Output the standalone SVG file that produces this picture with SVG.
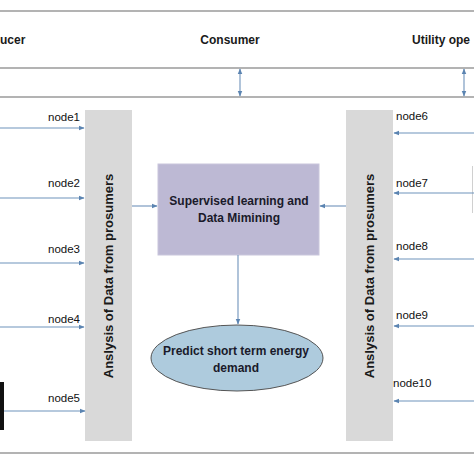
<svg xmlns="http://www.w3.org/2000/svg" width="474" height="474" viewBox="0 0 474 474">
<defs>
<style>
.hl{stroke:#9a9a9a;stroke-width:1.5;fill:none}
.ar{stroke:#6f93bb;stroke-width:1.1;fill:none}
.hd{font-family:"Liberation Sans",Arial,sans-serif;font-size:12px;font-weight:bold;fill:#1a1a1a}
.rt{font-family:"Liberation Sans",Arial,sans-serif;font-size:13px;font-weight:bold;fill:#1a1a1a}
.nd{font-family:"Liberation Sans",Arial,sans-serif;font-size:11.5px;fill:#111}
.bx{font-family:"Liberation Sans",Arial,sans-serif;font-size:12px;font-weight:bold;fill:#1a1a2a}
.bar{fill:#d9d9d9}
</style>
<marker id="ah" viewBox="0 0 10 10" refX="9" refY="5" markerWidth="6" markerHeight="6" orient="auto-start-reverse" markerUnits="userSpaceOnUse">
<path d="M0,1 L10,5 L0,9 Z" fill="#5b84b1"/>
</marker>
</defs>
<rect width="474" height="474" fill="#ffffff"/>
<g id="header">
<line class="hl" x1="0" y1="11" x2="474" y2="11"/>
<line class="hl" x1="0" y1="68" x2="474" y2="68"/>
<line class="hl" x1="0" y1="97" x2="474" y2="97"/>
<line class="hl" x1="0" y1="453" x2="474" y2="453"/>
<text class="hd" x="0" y="44">ucer</text>
<text class="hd" x="230" y="44" text-anchor="middle">Consumer</text>
<text class="hd" x="412" y="44">Utility ope</text>
</g>
<g id="left-bar">
<rect class="bar" x="85" y="110" width="47" height="331"/>
<text class="rt" transform="translate(113,276) rotate(-90)" text-anchor="middle">Anslysis of Data from prosumers</text>
</g>
<g id="right-bar">
<rect class="bar" x="346" y="110" width="47" height="331"/>
<text class="rt" transform="translate(374,276) rotate(-90)" text-anchor="middle">Anslysis of Data from prosumers</text>
</g>
<g id="learning">
<rect x="158" y="164" width="161" height="91" fill="#bdb9d4" stroke="#c9c6dc" stroke-width="1"/>
<text class="bx" x="239" y="205" text-anchor="middle">Supervised learning and</text>
<text class="bx" x="239" y="222" text-anchor="middle">Data Mimining</text>
</g>
<g id="predict">
<ellipse cx="237" cy="358" rx="86" ry="33" fill="#aecbdd" stroke="#555" stroke-width="1"/>
<text class="bx" x="236" y="355" text-anchor="middle">Predict short term energy</text>
<text class="bx" x="236" y="372" text-anchor="middle">demand</text>
</g>
<g id="node-labels">
<text class="nd" x="80" y="121" text-anchor="end">node1</text>
<text class="nd" x="80" y="187" text-anchor="end">node2</text>
<text class="nd" x="80" y="253" text-anchor="end">node3</text>
<text class="nd" x="80" y="323" text-anchor="end">node4</text>
<text class="nd" x="80" y="402" text-anchor="end">node5</text>
<text class="nd" x="396" y="120">node6</text>
<text class="nd" x="396" y="187">node7</text>
<text class="nd" x="396" y="250">node8</text>
<text class="nd" x="396" y="319">node9</text>
<text class="nd" x="393" y="387">node10</text>
</g>
<g id="edge-stubs">
<rect x="0" y="382" width="4" height="48" fill="#111"/>
<line x1="472.5" y1="166" x2="472.5" y2="213" stroke="#d0d0d0" stroke-width="1"/>
</g>
<g id="connectors">
<line class="ar" x1="240" y1="69" x2="240" y2="96" marker-start="url(#ah)" marker-end="url(#ah)"/>
<line class="ar" x1="464" y1="69" x2="464" y2="96" marker-start="url(#ah)" marker-end="url(#ah)"/>
<line class="ar" x1="0" y1="128" x2="84" y2="128" marker-end="url(#ah)"/>
<line class="ar" x1="0" y1="198" x2="84" y2="198" marker-end="url(#ah)"/>
<line class="ar" x1="0" y1="263" x2="84" y2="263" marker-end="url(#ah)"/>
<line class="ar" x1="0" y1="327" x2="84" y2="327" marker-end="url(#ah)"/>
<line class="ar" x1="4" y1="411" x2="85" y2="411" marker-end="url(#ah)"/>
<line class="ar" x1="474" y1="133" x2="394" y2="133" marker-end="url(#ah)"/>
<line class="ar" x1="474" y1="193" x2="394" y2="193" marker-end="url(#ah)"/>
<line class="ar" x1="474" y1="259" x2="394" y2="259" marker-end="url(#ah)"/>
<line class="ar" x1="474" y1="326" x2="394" y2="326" marker-end="url(#ah)"/>
<line class="ar" x1="474" y1="401" x2="394" y2="401" marker-end="url(#ah)"/>
<line class="ar" x1="132" y1="206" x2="157" y2="206" marker-end="url(#ah)"/>
<line class="ar" x1="346" y1="206" x2="320" y2="206" marker-end="url(#ah)"/>
<line class="ar" x1="238" y1="255" x2="238" y2="324" marker-end="url(#ah)"/>
</g>
</svg>
